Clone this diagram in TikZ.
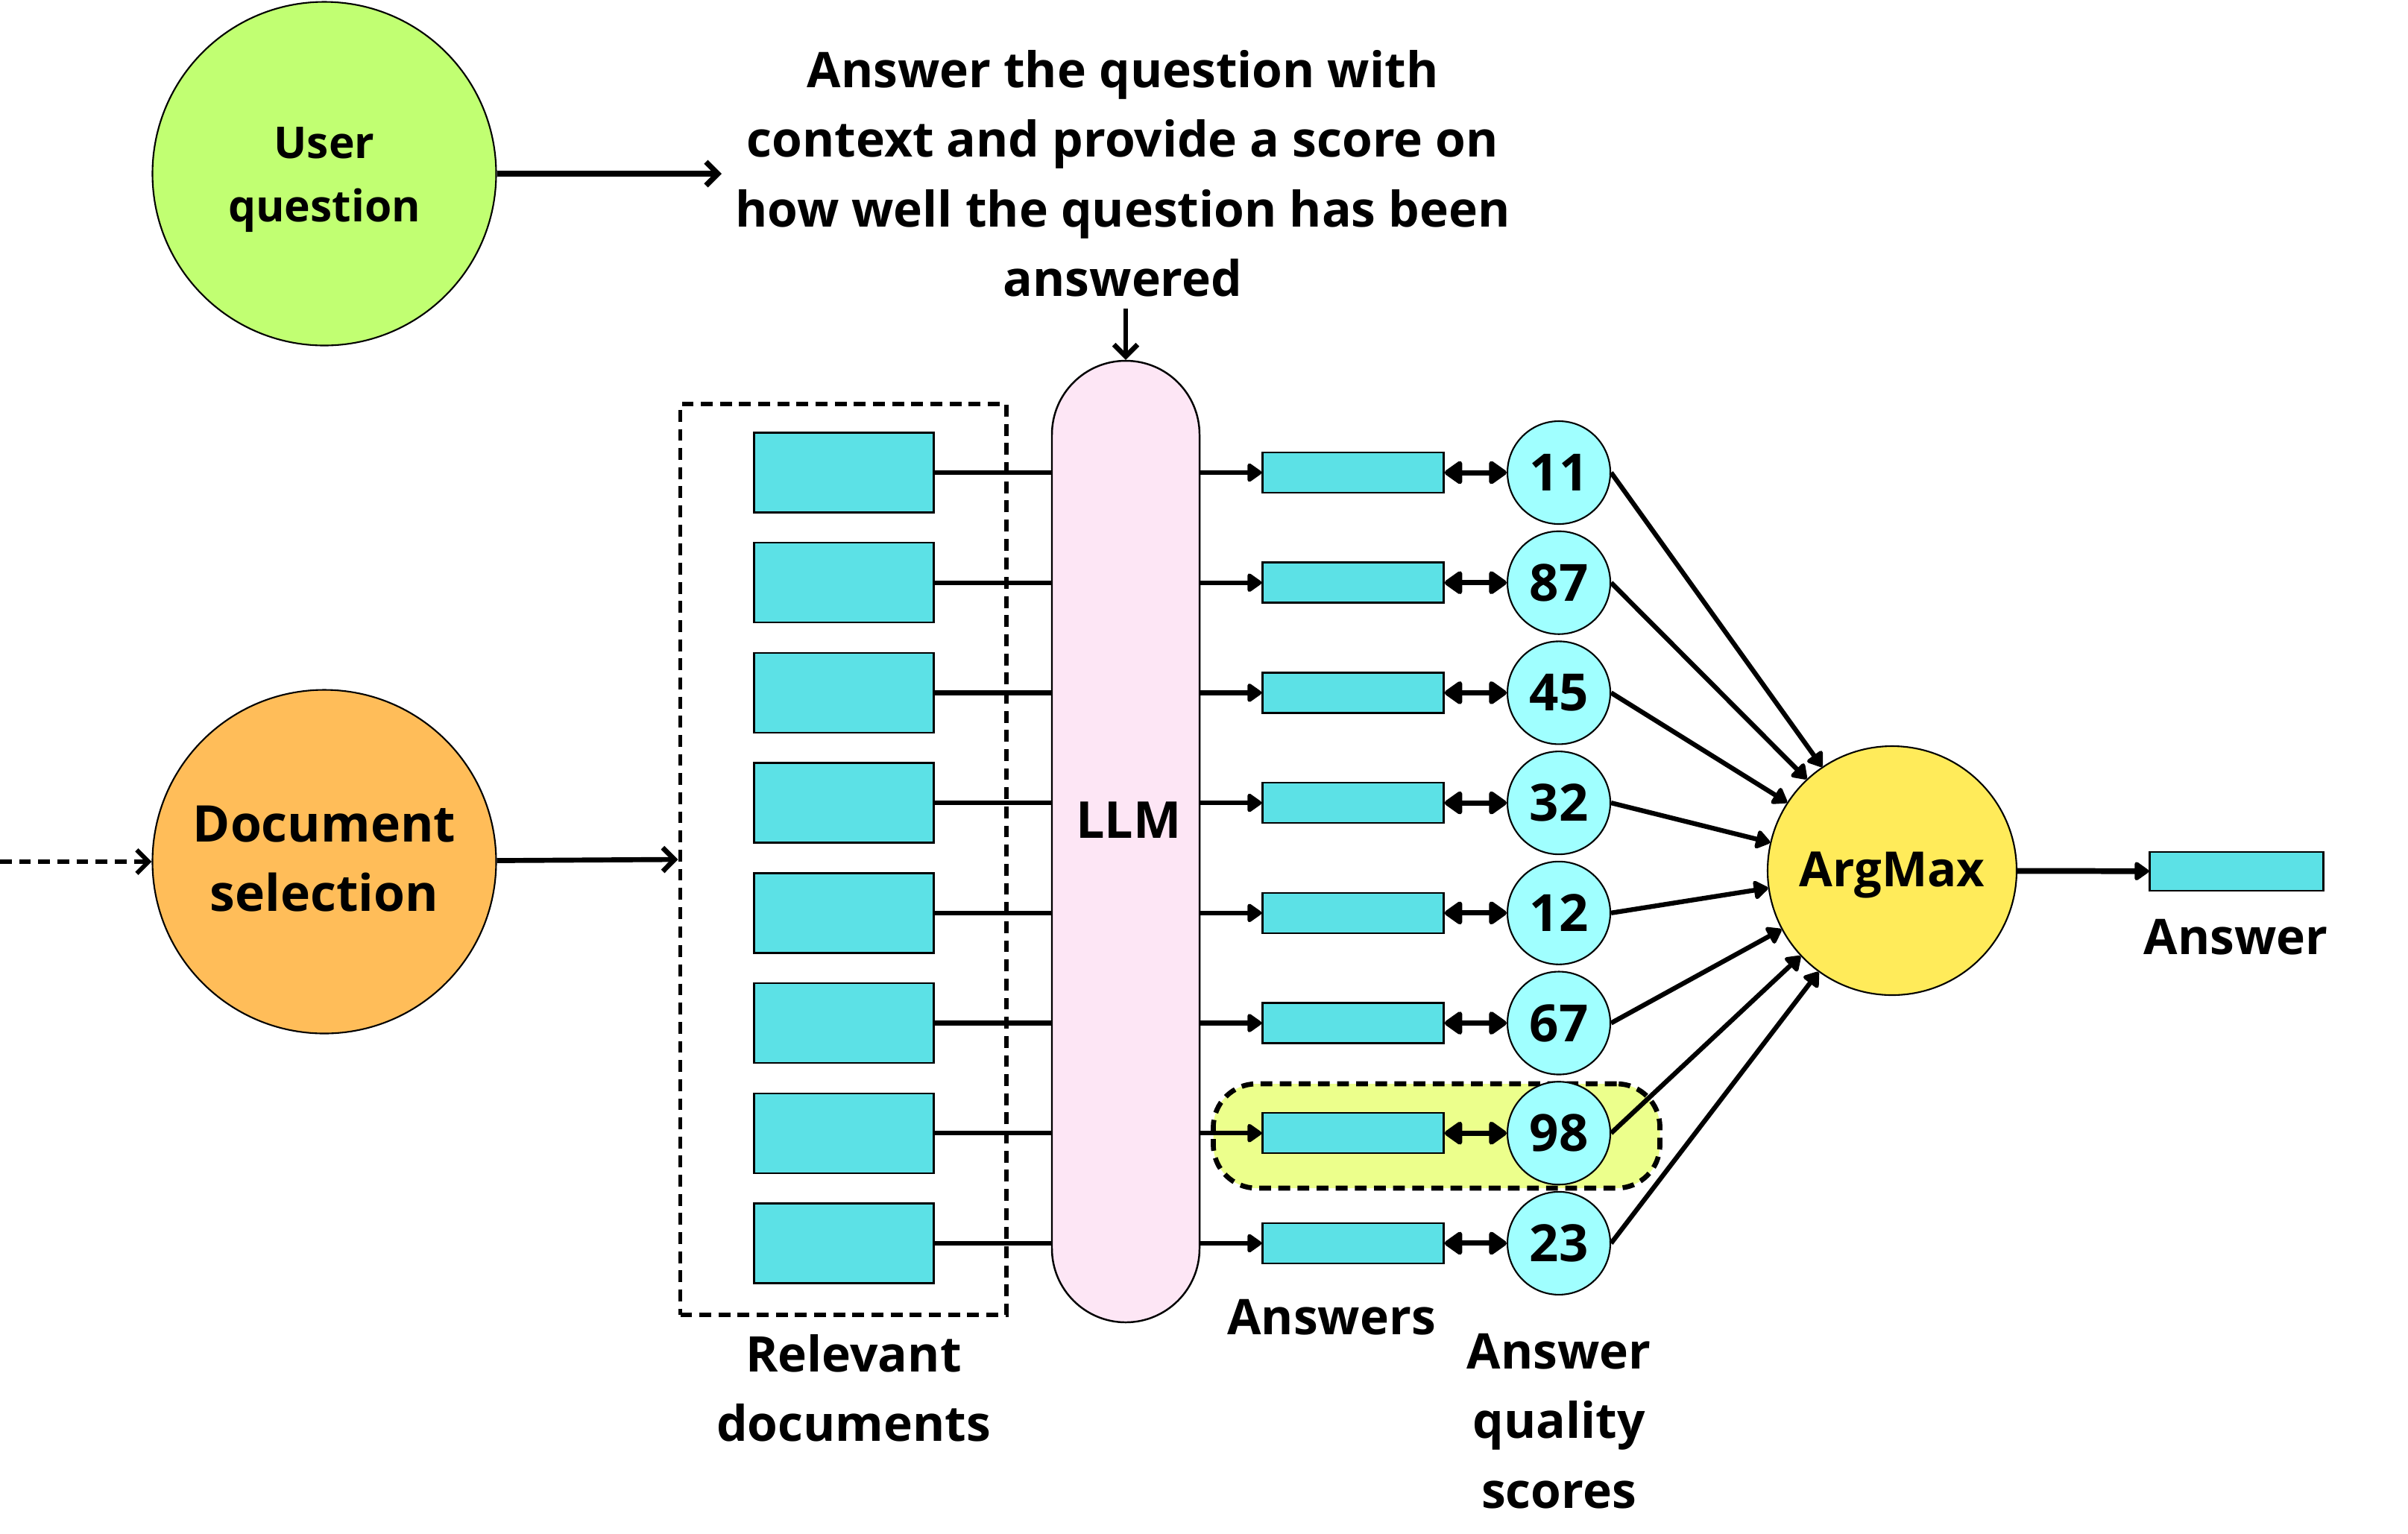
\documentclass[tikz,border=0pt]{standalone}
\usepackage{fontspec}
\setmainfont{Open Sans}
\usetikzlibrary{positioning, arrows.meta}

\definecolor{usergreen}{HTML}{C1FF72}
\definecolor{docorange}{HTML}{FFBD59}
\definecolor{boxteal}{HTML}{5CE1E6}
\definecolor{scoreblue}{HTML}{A0FFFF}
\definecolor{llmpink}{HTML}{FDE6F5}
\definecolor{maxyellow}{HTML}{FFEB5A}
\definecolor{hilite}{HTML}{ECFF8C}

\tikzset{
	big/.style={circle, draw, line width=0.6pt, inner sep=0pt, minimum size=4.61cm, align=center},
	docbox/.style={rectangle, draw, line width=0.7pt, fill=boxteal, minimum width=2.41cm, minimum height=1.07cm},
	ansbox/.style={rectangle, draw, line width=0.7pt, fill=boxteal, minimum width=2.43cm, minimum height=0.54cm},
	score/.style={circle, draw, line width=0.6pt, fill=scoreblue, inner sep=0pt, minimum size=1.38cm, font=\fontsize{19.6}{24}\selectfont\bfseries},
	lbl/.style={align=center, inner sep=0pt, font=\fontsize{18.75}{26.6}\selectfont\bfseries},
	arr/.style={-{Triangle[round,length=6pt,width=8pt]}, every edge/.append style={line width=1.8pt}},
	dblarr/.style={{Triangle[round,length=7.5pt,width=10pt]}-{Triangle[round,length=7.5pt,width=10pt]}, every edge/.append style={line width=2pt}},
	barb/.style={-{Straight Barb[length=4.5pt,width=9pt]}},
	conn/.style={every edge/.append style={line width=1.8pt}},
	dashes/.style={dash pattern=on 4.5pt off 2.8pt}
}

\begin{document}
\begin{tikzpicture}[node distance=1.477cm, on grid]
	\useasboundingbox (0,0) rectangle (32.3,-20.57);

	% sources
	\node[big, fill=usergreen, label={[lbl, yshift=-0.08cm, font=\fontsize{16.7}{24}\selectfont\bfseries]center:User\\question}] (user) at (4.35,-2.33) {};
	\node[big, fill=docorange, label={[lbl, yshift=0.04cm, font=\fontsize{19.3}{26.6}\selectfont\bfseries]center:Document\\selection}] (doc) at (4.35,-11.56) {};
	\coordinate (ext) at (0,-11.56);

	\node[lbl] (prompt) at (15.06,-2.33) {Answer the question with\\context and provide a score on\\how well the question has been\\answered};
	\coordinate (promptin) at (9.68,-2.33);
	\coordinate (promptout) at (15.10,-4.14);

	% frame, llm and highlight go below the rest
	\node[rectangle, draw, dashes, line width=1.7pt, minimum width=4.37cm, minimum height=12.22cm] (frame) at (11.31,-11.53) {};
	\node[rectangle, draw, line width=0.7pt, fill=llmpink, rounded corners=0.99cm, minimum width=1.98cm, minimum height=12.90cm] (llm) at (15.10,-11.29) {};
	\node[lbl, font=\fontsize{19.4}{24}\selectfont\bfseries] (llmtext) at (15.14,-11.0) {LLM};
	\node[rectangle, draw, dashes, line width=1.9pt, fill=hilite, rounded corners=0.58cm, minimum width=5.99cm, minimum height=1.40cm] (best) at (19.27,-15.24) {};

	% relevant documents
	\node[docbox] (d1) at (11.32,-6.34) {};
	\node[docbox, below=of d1] (d2) {};
	\node[docbox, below=of d2] (d3) {};
	\node[docbox, below=of d3] (d4) {};
	\node[docbox, below=of d4] (d5) {};
	\node[docbox, below=of d5] (d6) {};
	\node[docbox, below=of d6] (d7) {};
	\node[docbox, below=of d7] (d8) {};

	% answers
	\node[ansbox, right=6.83cm of d1] (a1) {};
	\node[ansbox, right=6.83cm of d2] (a2) {};
	\node[ansbox, right=6.83cm of d3] (a3) {};
	\node[ansbox, right=6.83cm of d4] (a4) {};
	\node[ansbox, right=6.83cm of d5] (a5) {};
	\node[ansbox, right=6.83cm of d6] (a6) {};
	\node[ansbox, right=6.83cm of d7] (a7) {};
	\node[ansbox, right=6.83cm of d8] (a8) {};

	% scores
	\node[score, right=2.76cm of a1] (s1) {11};
	\node[score, right=2.76cm of a2] (s2) {87};
	\node[score, right=2.76cm of a3] (s3) {45};
	\node[score, right=2.76cm of a4] (s4) {32};
	\node[score, right=2.76cm of a5] (s5) {12};
	\node[score, right=2.76cm of a6] (s6) {67};
	\node[score, right=2.76cm of a7] (s7) {98};
	\node[score, right=2.76cm of a8] (s8) {23};

	\node[big, fill=maxyellow, minimum size=3.34cm, label={[lbl, yshift=-0.06cm, font=\fontsize{18.5}{24}\selectfont\bfseries]center:ArgMax}] (argmax) at (25.38,-11.68) {};
	\node[rectangle, draw, line width=0.7pt, fill=boxteal, minimum width=2.33cm, minimum height=0.52cm] (out) at (30.0,-11.69) {};

	% labels
	\node[lbl] (reldocs) at (11.45,-18.62) {Relevant\\documents};
	\node[lbl] (answers) at (17.86,-17.67) {Answers};
	\node[lbl, anchor=base, text depth=0pt] (quality) at (20.91,-20.23) {Answer\\quality\\scores};
	\node[lbl] (outlabel) at (29.99,-12.57) {Answer};

	\draw[barb, line width=2.1pt] (user) -- (promptin);
	\draw[barb, line width=1.9pt] (promptout) -- (llm.north);
	\draw[barb, dashes, line width=1.7pt] (ext) -- (doc.west);
	\draw[barb, line width=1.9pt] (doc) -- (frame.west);

	\path[conn]
	(d1) edge (d1 -| llm.west)
	(d2) edge (d2 -| llm.west)
	(d3) edge (d3 -| llm.west)
	(d4) edge (d4 -| llm.west)
	(d5) edge (d5 -| llm.west)
	(d6) edge (d6 -| llm.west)
	(d7) edge (d7 -| llm.west)
	(d8) edge (d8 -| llm.west);

	\path[arr]
	(a1 -| llm.east) edge (a1)
	(a2 -| llm.east) edge (a2)
	(a3 -| llm.east) edge (a3)
	(a4 -| llm.east) edge (a4)
	(a5 -| llm.east) edge (a5)
	(a6 -| llm.east) edge (a6)
	(a7 -| llm.east) edge (a7)
	(a8 -| llm.east) edge (a8);

	\path[dblarr]
	(a1) edge (s1)
	(a2) edge (s2)
	(a3) edge (s3)
	(a4) edge (s4)
	(a5) edge (s5)
	(a6) edge (s6)
	(a7) edge (s7)
	(a8) edge (s8);

	\path[arr]
	(s1.east) edge (argmax.124.5)
	(s2.east) edge (argmax.133)
	(s3.east) edge (argmax.147)
	(s4.east) edge (argmax.167)
	(s5.east) edge (argmax.188)
	(s6.east) edge (argmax.208)
	(s7.east) edge (argmax.223)
	(s8.east) edge (argmax.234);
	\draw[arr, line width=2.2pt] (argmax) -- (out);
\end{tikzpicture}
\end{document}
